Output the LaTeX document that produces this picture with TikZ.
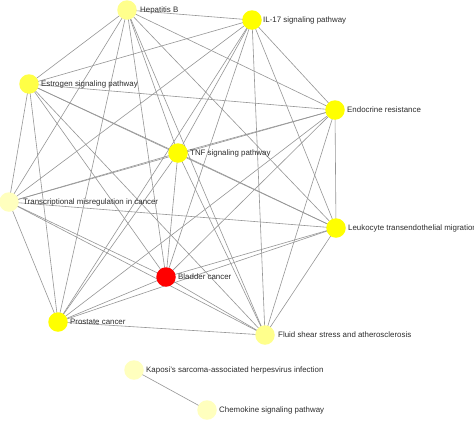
\documentclass[tikz,border=0pt]{standalone}
\usepackage{fontspec}
\setmainfont{Liberation Sans}
\definecolor{ybright}{RGB}{255,255,0}
\definecolor{ymid}{RGB}{255,255,70}
\definecolor{ylight}{RGB}{255,255,140}
\definecolor{ypale}{RGB}{255,255,190}
\definecolor{edgegray}{RGB}{150,150,150}
\definecolor{labelgray}{RGB}{45,45,45}
\tikzset{
  gnode/.style={circle,draw=none,minimum size=19.5pt,inner sep=0pt},
  glabel/.style={anchor=west,inner sep=0pt,font=\fontsize{7.9pt}{8.2pt}\selectfont,text=labelgray},
  gedge/.style={draw=edgegray,line width=0.6pt}
}
\begin{document}
\begin{tikzpicture}[x=1pt,y=-1pt]
\useasboundingbox (0,0) rectangle (474,421);
\fill[white] (0,0) rectangle (474,421);
% node positions (named, drawn after the edges)
\coordinate (h)  at (127,10);
\coordinate (i)  at (252,20);
\coordinate (e)  at (29,84);
\coordinate (en) at (335,110);
\coordinate (t)  at (178,153);
\coordinate (tr) at (9,202);
\coordinate (l)  at (336,228);
\coordinate (b)  at (166,277);
\coordinate (p)  at (58,322);
\coordinate (f)  at (265,335);
\coordinate (k)  at (134,370);
\coordinate (c)  at (207,410);
% edges
\foreach \a/\b in {h/i,h/e,h/en,h/t,h/tr,h/l,h/b,h/p,h/f,
  i/e,i/en,i/t,i/tr,i/l,i/b,i/p,i/f,
  e/en,e/t,e/tr,e/l,e/b,e/p,e/f,
  en/t,en/tr,en/l,en/b,en/p,en/f,
  t/tr,t/l,t/b,t/p,t/f,
  tr/l,tr/b,tr/p,tr/f,
  l/b,l/p,l/f,
  b/p,b/f,
  p/f,
  k/c}
  \draw[gedge] (\a) -- (\b);
% nodes
\node[gnode,fill=ylight]  (nh)  at (h)  {};
\node[gnode,fill=ybright] (ni)  at (i)  {};
\node[gnode,fill=ymid]    (ne)  at (e)  {};
\node[gnode,fill=ybright] (nen) at (en) {};
\node[gnode,fill=ybright] (nt)  at (t)  {};
\node[gnode,fill=ypale]   (ntr) at (tr) {};
\node[gnode,fill=ybright] (nl)  at (l)  {};
\node[gnode,fill=red]     (nb)  at (b)  {};
\node[gnode,fill=ybright] (np)  at (p)  {};
\node[gnode,fill=ylight]  (nf)  at (f)  {};
\node[gnode,fill=ypale]   (nk)  at (k)  {};
\node[gnode,fill=ypale]   (nc)  at (c)  {};
% labels
\node[glabel] (lh)  at ([xshift=13pt]h)  {Hepatitis B};
\node[glabel] (li)  at ([xshift=11pt]i)  {IL-17 signaling pathway};
\node[glabel] (le)  at ([xshift=12pt]e)  {Estrogen signaling pathway};
\node[glabel] (len) at ([xshift=12pt]en) {Endocrine resistance};
\node[glabel] (lt)  at ([xshift=12pt]t)  {TNF signaling pathway};
\node[glabel] (ltr) at ([xshift=14pt]tr) {Transcriptional misregulation in cancer};
\node[glabel] (ll)  at ([xshift=12pt]l)  {Leukocyte transendothelial migration};
\node[glabel] (lb)  at ([xshift=12pt]b)  {Bladder cancer};
\node[glabel] (lp)  at ([xshift=12pt]p)  {Prostate cancer};
\node[glabel] (lf)  at ([xshift=13pt]f)  {Fluid shear stress and atherosclerosis};
\node[glabel] (lk)  at ([xshift=12pt]k)  {Kaposi's sarcoma-associated herpesvirus infection};
\node[glabel] (lc)  at ([xshift=12pt]c)  {Chemokine signaling pathway};
\end{tikzpicture}
\end{document}
